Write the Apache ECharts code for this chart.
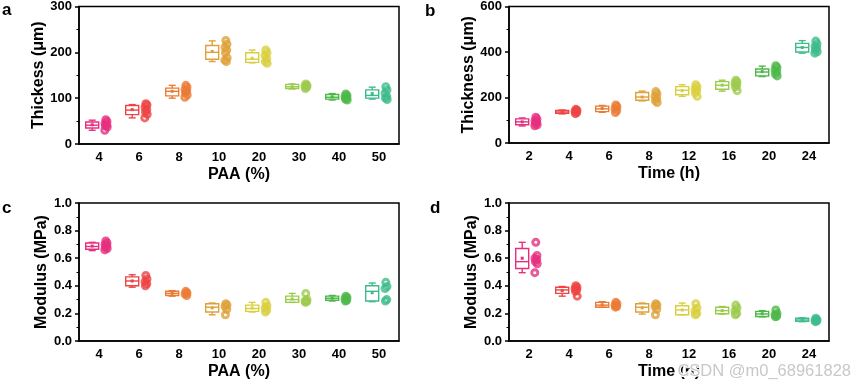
<!DOCTYPE html>
<html><head><meta charset="utf-8">
<script src="https://cdn.jsdelivr.net/npm/echarts@6/dist/echarts.min.js"></script>
<style>html,body{margin:0;padding:0;background:#fff}#c{width:856px;height:386px}</style>
</head><body><div id="c"></div>
<script>
const colors = ['#E6307F','#EE4444','#EB7B35','#DFA13A','#D9CF3E','#9DCB4C','#4DB848','#3EBB8C'];

// ---- Panel a: Thickness vs PAA ----
const catsA = ['4','6','8','10','20','30','40','50'];
// [min, Q1, median, Q3, max]
const boxA = [[30,35,41,48,52],[57,64,74,84,86],[100,105,115,122,128],[180,185,200,215,225],
              [177,178,185,199,205],[120,121,125,130,131],[96,98,102,108,110],[98,100,106,118,124]];
const meanA = [42,75,115,202,187,125,103,110];
const ptsA = [[53,49,45,42,40,37,30],[88,85,80,75,70,65,57],[128,124,119,116,112,107,102],
              [226,218,211,205,199,188,183,180],[205,199,193,186,180,176],[131,128,126,124,121],
              [109,106,103,101,98,96],[125,118,111,104,100,97]];

// ---- Panel b: Thickness vs Time ----
const catsB = ['2','4','6','8','12','16','20','24'];
const boxB = [[75,80,93,106,110],[128,130,136,143,145],[135,138,150,162,165],[185,188,202,222,228],
              [205,212,232,248,256],[228,236,254,270,276],[292,295,312,325,338],[395,400,420,438,450]];
const meanB = [93,136,152,202,230,254,314,420];
const ptsB = [[113,105,98,92,86,80,76],[148,144,139,134,129],[167,160,152,143,134],[226,216,206,196,186,178],
              [256,246,238,230,220,205],[276,268,262,255,246,230],[340,332,322,312,303,295],[448,436,426,418,410,401,395]];

// ---- Panel c: Modulus vs PAA ----
const catsC = ['4','6','8','10','20','30','40','50'];
const boxC = [[0.655,0.665,0.685,0.71,0.715],[0.39,0.40,0.435,0.465,0.48],[0.325,0.33,0.345,0.36,0.365],
              [0.19,0.21,0.245,0.27,0.275],[0.21,0.215,0.235,0.26,0.28],[0.28,0.28,0.30,0.325,0.345],
              [0.29,0.295,0.31,0.325,0.33],[0.285,0.29,0.36,0.40,0.42]];
const meanC = [0.688,0.435,0.345,0.24,0.24,0.305,0.31,0.35];
const ptsC = [[0.725,0.71,0.70,0.69,0.68,0.67,0.66],[0.475,0.45,0.43,0.415,0.40],[0.36,0.35,0.34,0.33],
              [0.27,0.26,0.25,0.23,0.19],[0.28,0.255,0.24,0.225,0.21],[0.345,0.30,0.29,0.285,0.28],
              [0.325,0.315,0.305,0.295,0.29],[0.425,0.395,0.38,0.30,0.29]];

// ---- Panel d: Modulus vs Time ----
const catsD = ['2','4','6','8','12','16','20','24'];
const boxD = [[0.495,0.525,0.575,0.67,0.715],[0.325,0.345,0.37,0.39,0.395],[0.245,0.245,0.26,0.28,0.285],
              [0.195,0.21,0.245,0.27,0.275],[0.19,0.19,0.225,0.255,0.275],[0.195,0.198,0.22,0.245,0.25],
              [0.175,0.178,0.196,0.215,0.22],[0.14,0.142,0.152,0.165,0.168]];
const meanD = [0.60,0.365,0.263,0.24,0.225,0.22,0.198,0.152];
const ptsD = [[0.715,0.62,0.60,0.59,0.575,0.56,0.495],[0.40,0.39,0.38,0.37,0.36,0.325],[0.28,0.27,0.26,0.25,0.245],
              [0.27,0.26,0.25,0.23,0.19],[0.27,0.24,0.22,0.20,0.19],[0.26,0.24,0.22,0.20,0.19],
              [0.225,0.20,0.19,0.18,0.175],[0.165,0.155,0.15,0.145,0.14]];

const panels = [
  {cats:catsA, box:boxA, mean:meanA, pts:ptsA, xName:'PAA (%)', yName:'Thickess (μm)', max:300, interval:100, dec:0,
   grid:{left:79, top:6, width:320, height:138}, nameGap:32, letter:'a', lx:2, ly:15},
  {cats:catsB, box:boxB, mean:meanB, pts:ptsB, xName:'Time (h)', yName:'Thickness (μm)', max:600, interval:200, dec:0,
   grid:{left:509, top:6, width:320, height:137}, nameGap:32, letter:'b', lx:425, ly:16},
  {cats:catsC, box:boxC, mean:meanC, pts:ptsC, xName:'PAA (%)', yName:'Modulus (MPa)', max:1.0, interval:0.2, dec:1,
   grid:{left:79, top:203, width:320, height:138}, nameGap:29, letter:'c', lx:2, ly:213},
  {cats:catsD, box:boxD, mean:meanD, pts:ptsD, xName:'Time (h)', yName:'Modulus (MPa)', max:1.0, interval:0.2, dec:1,
   grid:{left:509, top:203, width:320, height:138}, nameGap:29, letter:'d', lx:430, ly:213}
];

const FONT = 'Liberation Sans, Arial, sans-serif';
const grids = [], xAxes = [], yAxes = [], series = [], graphics = [];

panels.forEach((p, gi) => {
  grids.push(Object.assign({show:true, borderColor:'#000', borderWidth:1.5, backgroundColor:'transparent'}, p.grid));
  xAxes.push({type:'category', gridIndex:gi, data:p.cats, boundaryGap:true,
    name:p.xName, nameLocation:'middle', nameGap:23,
    nameTextStyle:{fontFamily:FONT, fontWeight:'bold', fontSize:16, color:'#000'},
    axisLine:{onZero:false, lineStyle:{color:'#000', width:1.5}},
    axisTick:{alignWithLabel:true, length:4, lineStyle:{color:'#000', width:1.5}},
    axisLabel:{fontFamily:FONT, fontWeight:'bold', fontSize:13, color:'#000', margin:7},
    splitLine:{show:false}});
  xAxes.push({type:'value', gridIndex:gi, min:-0.5, max:7.5, show:false});
  yAxes.push({type:'value', gridIndex:gi, min:0, max:p.max, interval:p.interval,
    name:p.yName, nameLocation:'middle', nameGap:p.nameGap,
    nameTextStyle:{fontFamily:FONT, fontWeight:'bold', fontSize:16, color:'#000'},
    axisLine:{show:true, onZero:false, lineStyle:{color:'#000', width:1.5}},
    axisTick:{show:true, length:4, lineStyle:{color:'#000', width:1.5}},
    minorTick:{show:true, splitNumber:2, length:2.5, lineStyle:{color:'#000', width:1}},
    axisLabel:{fontFamily:FONT, fontWeight:'bold', fontSize:13, color:'#000', margin:7,
      formatter:(v)=>v.toFixed(p.dec)},
    splitLine:{show:false}});

  const boxData = p.box.map((b, i) => [i, b[0], b[1], b[2], b[3], b[4], p.mean[i]]);
  series.push({type:'custom', xAxisIndex:gi*2+1, yAxisIndex:gi, data:boxData, z:3,
    renderItem:function(params, api){
      const i = api.value(0);
      const col = colors[i];
      const x = i - 0.17;
      const mn = api.coord([x, api.value(1)]);
      const q1 = api.coord([x, api.value(2)]);
      const md = api.coord([x, api.value(3)]);
      const q3 = api.coord([x, api.value(4)]);
      const mx = api.coord([x, api.value(5)]);
      const me = api.coord([x, api.value(6)]);
      const cx = mn[0], hw = 6.5, cw = 3.5;
      const ls = {stroke:col, lineWidth:1.4, fill:null};
      return {type:'group', children:[
        {type:'rect', shape:{x:cx-hw, y:q3[1], width:2*hw, height:Math.max(q1[1]-q3[1],1)}, style:{stroke:col, lineWidth:1.4, fill:'rgba(255,255,255,0)'}},
        {type:'line', shape:{x1:cx-hw, y1:md[1], x2:cx+hw, y2:md[1]}, style:ls},
        {type:'line', shape:{x1:cx, y1:q3[1], x2:cx, y2:mx[1]}, style:ls},
        {type:'line', shape:{x1:cx, y1:q1[1], x2:cx, y2:mn[1]}, style:ls},
        {type:'line', shape:{x1:cx-cw, y1:mx[1], x2:cx+cw, y2:mx[1]}, style:ls},
        {type:'line', shape:{x1:cx-cw, y1:mn[1], x2:cx+cw, y2:mn[1]}, style:ls},
        {type:'rect', shape:{x:cx-1.5, y:me[1]-1.5, width:3, height:3}, style:{fill:col}}
      ]};
    }});

  const jit = [0, 0.03, -0.02, 0.025, -0.01, 0.035, -0.025, 0.015];
  const sdata = [];
  p.pts.forEach((arr, i) => {
    arr.forEach((v, k) => {
      sdata.push({value:[i + 0.17 + jit[k % jit.length], v],
        itemStyle:{color:'rgba(255,255,255,0)', borderColor:colors[i], borderWidth:3}});
    });
  });
  series.push({type:'scatter', xAxisIndex:gi*2+1, yAxisIndex:gi, data:sdata, symbol:'circle', symbolSize:6, z:4});

  graphics.push({type:'text', left:p.lx, top:p.ly-13, style:{text:p.letter, fontFamily:FONT, fontWeight:'bold', fontSize:17, fill:'#000'}});
});

graphics.push({type:'text', right:4, top:362, z:100, style:{text:'CSDN @m0_68961828', fontFamily:FONT, fontSize:16.5, fill:'#c8c8c8', stroke:'#fff', lineWidth:2}});

const chart = echarts.init(document.getElementById('c'), null, {renderer:'canvas'});
chart.setOption({animation:false, grid:grids, xAxis:xAxes, yAxis:yAxes, series:series, graphic:graphics});
</script></body></html>
